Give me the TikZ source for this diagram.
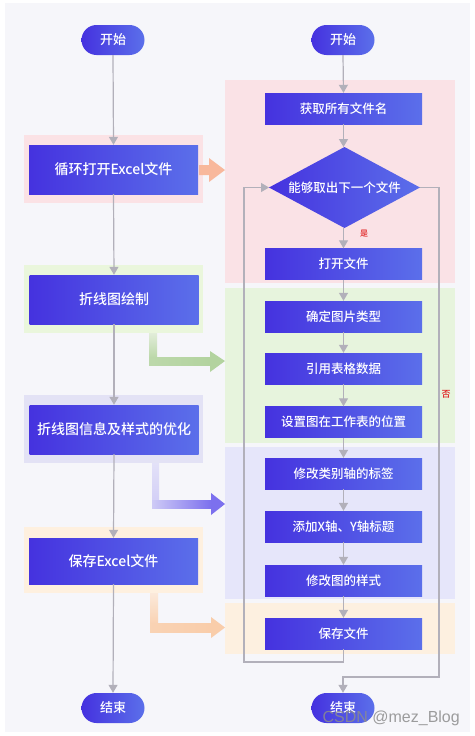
\documentclass[tikz,border=0pt]{standalone}
\usepackage{fontspec}
\IfFontExistsTF{Noto Sans CJK SC Medium}{\newfontfamily\cjk{Noto Sans CJK SC Medium}}{\newfontfamily\cjk{Noto Sans CJK SC}}
\newfontfamily\wm{Liberation Sans}
\usetikzlibrary{arrows.meta,shapes.geometric}
\definecolor{bgc}{HTML}{F6F6FA}
\definecolor{bL}{HTML}{4532DF}
\definecolor{bR}{HTML}{5B6FEA}
\definecolor{ln}{HTML}{B2B0BA}
\definecolor{pinkR}{HTML}{FAE2E6}
\definecolor{greenR}{HTML}{E7F4DD}
\definecolor{purpR}{HTML}{E6E6FA}
\definecolor{oranR}{HTML}{FDF0E0}
\definecolor{pinkH}{HTML}{FBE2E5}
\definecolor{greenH}{HTML}{EAF6DC}
\definecolor{purpH}{HTML}{E3E2F5}
\definecolor{oranH}{HTML}{FEF0DF}
\definecolor{arO}{HTML}{F8B89C}
\definecolor{arG}{HTML}{B3D39F}
\definecolor{arGl}{HTML}{E2EDD9}
\definecolor{arP}{HTML}{7C70EE}
\definecolor{arPl}{HTML}{E3E1F8}
\definecolor{arO2}{HTML}{F9CDAA}
\definecolor{arO2l}{HTML}{FBE9DA}
\definecolor{redt}{HTML}{E02020}
\tikzset{
  conn/.style={draw=ln, line width=1.2pt},
  tip/.style={-{Triangle[width=9pt,length=8pt]}},
  lbox/.style={rectangle, left color=bL, right color=bR, text=white, font=\cjk\fontsize{14}{14}\selectfont, minimum width=169pt, minimum height=49pt, inner sep=0pt},
  rbox/.style={rectangle, left color=bL, right color=bR, text=white, font=\cjk\fontsize{12.5}{12.5}\selectfont, minimum width=157pt, minimum height=31pt, inner sep=0pt},
  pill/.style={rectangle, rounded corners=15pt, left color=bL, right color=bR, text=white, font=\cjk\fontsize{13}{13}\selectfont, minimum width=63pt, minimum height=30pt, inner sep=0pt},
  dia/.style={diamond, aspect=1.86, left color=bL, right color=bR, text=white, font=\cjk\fontsize{12.5}{12.5}\selectfont, minimum width=151pt, minimum height=81pt, inner sep=0pt, outer sep=0pt}
}
\begin{document}
\begin{tikzpicture}[x=1pt,y=-1pt]
\useasboundingbox (0,0) rectangle (474,736);
\fill[white] (0,0) rectangle (474,736);
\fill[bgc] (5,3) rectangle (470,732);
% right regions
\fill[pinkR] (225,80) rectangle (455,283);
\fill[greenR] (225,288) rectangle (455,443);
\fill[purpR] (225,447) rectangle (455,599);
\fill[oranR] (225,603) rectangle (455,654);
% left highlights
\fill[pinkH] (24,135) rectangle (203,203);
\fill[greenH] (24,265) rectangle (203,333);
\fill[purpH] (24,395) rectangle (203,463);
\fill[oranH] (24,527) rectangle (203,593);
% fat arrows
\fill[arO] (199,165) -- (209,165) -- (209,158) -- (225,170) -- (209,182) -- (209,175) -- (199,175) -- cycle;
\shade[top color=arGl, bottom color=arG!80!arGl] (149,333) rectangle (157,357);
\shade[left color=arG!80!arGl, right color=arG] (149,357) rectangle (210,365);
\fill[arG] (210,351) -- (225,361) -- (210,372) -- cycle;
\shade[top color=arPl, bottom color=arPl!85!arP] (152,463) rectangle (159,500);
\shade[left color=arPl!80!arP, right color=arP] (152,500) rectangle (211,508);
\fill[arP] (211,493) -- (225,504) -- (211,515) -- cycle;
\shade[top color=arO2l, bottom color=arO2!80!arO2l] (150,593) rectangle (158,623);
\shade[left color=arO2!80!arO2l, right color=arO2] (150,623) rectangle (211,632);
\fill[arO2] (211,617) -- (225,627.5) -- (211,638) -- cycle;
% left column nodes
\node[pill] (ls) at (113,40) {开始};
\node[lbox] (l1) at (113.5,169.5) {循环打开Excel文件};
\node[lbox] (l2) at (114,299.5) {折线图绘制};
\node[lbox] (l3) at (114,429.5) {折线图信息及样式的优化};
\node[lbox, minimum height=46pt] (l4) at (113.5,561) {保存Excel文件};
\node[pill] (le) at (113,708) {结束};
% right column nodes
\node[pill] (rs) at (343,40) {开始};
\node[rbox] (r1) at (343.5,108.5) {获取所有文件名};
\node[dia] (dd) at (344.5,187.5) {能够取出下一个文件};
\node[rbox] (r2) at (343.5,264) {打开文件};
\node[rbox] (r3) at (343.5,316.5) {确定图片类型};
\node[rbox] (r4) at (343.5,368.5) {引用表格数据};
\node[rbox] (r5) at (343.5,422) {设置图在工作表的位置};
\node[rbox] (r6) at (343.5,473.5) {修改类别轴的标签};
\node[rbox] (r7) at (343.5,526.5) {添加X轴、Y轴标题};
\node[rbox] (r8) at (343.5,580.5) {修改图的样式};
\node[rbox] (r9) at (343.5,633.5) {保存文件};
\node[pill] (re) at (343,708) {结束};
% connectors left
\draw[conn,tip] (ls.south) -- (l1.north);
\draw[conn,tip] (l1.south) -- (l2.north);
\draw[conn,tip] (l2.south) -- (l3.north);
\draw[conn,tip] (l3.south) -- (l4.north);
\draw[conn,tip] (l4.south) -- (le.north);
% connectors right
\draw[conn,tip] (rs.south) -- (r1.north);
\draw[conn,tip] (r1.south) -- (dd.north -| r1.south);
\draw[conn,tip] (dd.south -| r1.south) -- (r2.north);
\draw[conn,tip] (r2.south) -- (r3.north);
\draw[conn,tip] (r3.south) -- (r4.north);
\draw[conn,tip] (r4.south) -- (r5.north);
\draw[conn,tip] (r5.south) -- (r6.north);
\draw[conn,tip] (r6.south) -- (r7.north);
\draw[conn,tip] (r7.south) -- (r8.north);
\draw[conn,tip] (r8.south) -- (r9.north);
\coordinate (lpA) at (244,662);
\coordinate (lpB) at (244,187.5);
\draw[conn,tip] (r9.south) |- (lpA) -- (lpB) -- (dd.west);
\coordinate (nA) at (439,187.5);
\coordinate (nB) at (439,677);
\draw[conn,tip] (dd.east) -- (nA) -- (nB) -| (re.north);
% labels
\node[text=redt, font=\cjk\fontsize{8}{8}\selectfont, inner sep=0pt] (yes) at (364,234) {是};
\node[text=redt, font=\cjk\fontsize{9}{9}\selectfont, inner sep=0pt] (no) at (446,394) {否};
\node[text=gray!90, opacity=.85, font=\wm\fontsize{16}{16}\selectfont, anchor=east, inner sep=0pt] (wmk) at (460,718) {CSDN @mez\_Blog};
\end{tikzpicture}
\end{document}
